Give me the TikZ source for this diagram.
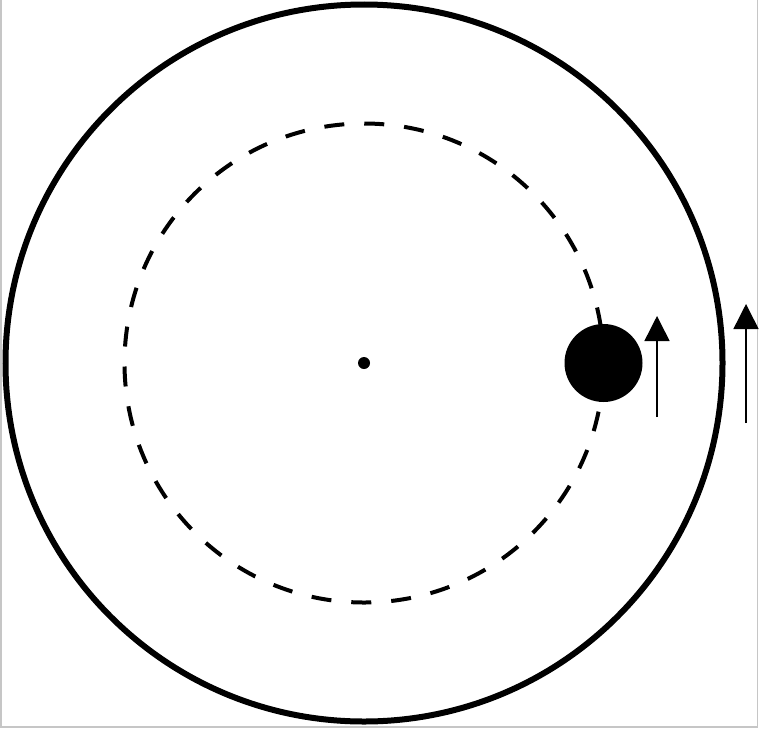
\documentclass[tikz,border=0pt]{standalone}
\usetikzlibrary{arrows.meta}
\begin{document}
\begin{tikzpicture}[x=1pt,y=-1pt,
  outer/.style={line width=6pt},
  orbit/.style={line width=4pt, dash pattern=on 20pt off 20pt, dash phase=31pt},
  vel/.style={line width=1.5pt, -{Triangle[width=25pt,length=25pt]}},
  frameline/.style={draw=gray!45, line width=1.5pt}]
\useasboundingbox (0,0) rectangle (759,728);
\fill[white] (0,0) rectangle (759,728);
% frame edges
\draw[frameline] (0.75,0) -- (0.75,727) -- (757.5,727) -- (757.5,0);
% outer circle
\draw[outer] (364,363) circle[radius=358.5];
% orbit
\draw[orbit] (364,363) circle[radius=239.5];
% central dot
\node[circle, fill=black, inner sep=0pt, minimum size=12pt] (center) at (364,363) {};
% planet
\node[circle, fill=black, inner sep=0pt, minimum size=78pt] (planet) at (603.5,363) {};
% velocity arrows
\coordinate (a1s) at (657,417);
\coordinate (a1e) at (657,316);
\coordinate (a2s) at (746,423);
\coordinate (a2e) at (746,304);
\draw[vel] (a1s) -- (a1e);
\draw[vel] (a2s) -- (a2e);
\end{tikzpicture}
\end{document}
